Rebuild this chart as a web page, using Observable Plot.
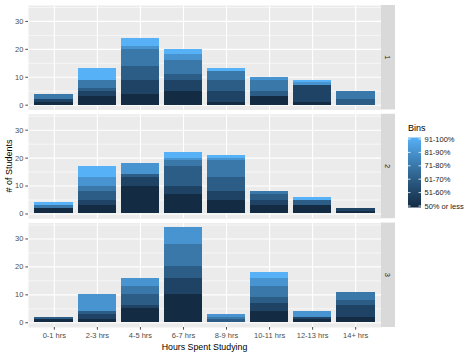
<!DOCTYPE html>
<html><head><meta charset="utf-8">
<script src="https://cdn.jsdelivr.net/npm/d3@7"></script>
<script src="https://cdn.jsdelivr.net/npm/@observablehq/plot@0.6"></script>
<style>body{margin:0;background:#fff} svg{display:block}</style>
</head><body><div id="chart"></div>
<script>
const hours = ["0-1 hrs","2-3 hrs","4-5 hrs","6-7 hrs","8-9 hrs","10-11 hrs","12-13 hrs","14+ hrs"];
const bins = ["50% or less","51-60%","61-70%","71-80%","81-90%","91-100%"];
const groups = ["1","2","3"];
// students per hours category; columns follow the bins order
const group1 = [[1,1,0,2,0,0],[3,2,1,3,0,4],[4,5,5,6,1,3],[5,4,2,5,2,2],[1,4,4,3,0,1],[3,0,2,4,1,0],[1,6,0,0,1,1],[0,0,2,3,0,0]];
const group2 = [[2,0,0,1,0,1],[3,2,3,2,3,4],[10,3,1,0,4,0],[7,3,7,2,1,2],[5,3,5,6,1,1],[3,2,2,1,0,0],[3,0,2,0,0,1],[1,1,0,0,0,0]];
const group3 = [[1,0,1,0,0,0],[1,2,1,0,6,0],[5,1,4,3,3,0],[10,6,4,8,6,0],[0,0,1,1,1,0],[4,3,2,4,3,2],[1,1,0,0,2,0],[2,4,2,3,0,0]];
const yTicks = [0,10,20,30];
const yMinor = [5,15,25,35];

const colorOf = d3.interpolateLab("#132B43", "#56B1F7");
const binColors = bins.map((b,i)=>colorOf(i/(bins.length-1)));
const table = [];
[group1,group2,group3].forEach((g,gi)=> g.forEach((row,hi)=> row.forEach((n,bi)=>
  table.push({group:groups[gi], hours:hours[hi], bin:bins[bi], count:n}))));

const W=474,H=355,mL=28,mR=93,mT=5,mB=28;
const font = "'Liberation Sans', Arial, sans-serif";
const plot = Plot.plot({
  width:W, height:H, marginLeft:mL, marginRight:mR, marginTop:mT, marginBottom:mB,
  style:{fontFamily:font, background:"white"},
  x:{type:"band", domain:hours, paddingInner:0.1, paddingOuter:0.15, round:false},
  y:{domain:[-1.7,35.7]},
  fy:{domain:groups, paddingInner:0.04, paddingOuter:0, axis:null, round:false},
  color:{domain:bins, range:binColors},
  marks:[
    Plot.frame({fill:"#EBEBEB", stroke:"none"}),
    Plot.gridY(yMinor, {stroke:"white", strokeOpacity:1, strokeWidth:0.6}),
    Plot.gridY(yTicks, {stroke:"white", strokeOpacity:1, strokeWidth:1.1}),
    Plot.gridX(hours, {stroke:"white", strokeOpacity:1, strokeWidth:1.1}),
    Plot.barY(table, Plot.stackY({x:"hours", y:"count", fill:"bin", fy:"group", shapeRendering:"crispEdges"})),
    Plot.axisY(yTicks, {tickSize:2.7, tickPadding:2.5, fontSize:7.5, color:"#4D4D4D", label:null}),
    Plot.axisX(hours, {tickSize:2.7, tickPadding:2.5, fontSize:7.5, color:"#4D4D4D", label:null})
  ]
});
document.getElementById("chart").appendChild(plot);

const svg = d3.select(plot);
const fy = plot.scale("fy");
const stripX = W - mR;
groups.forEach(k=>{
  const y0 = fy.apply(k), h = fy.bandwidth;
  svg.append("rect").attr("x", stripX).attr("y", y0).attr("width", 14).attr("height", h).attr("fill", "#D9D9D9");
  svg.append("text").attr("transform", `translate(${stripX+7},${y0+h/2}) rotate(90)`)
    .attr("text-anchor","middle").attr("dy","0.35em").attr("font-family",font).attr("font-size",7.5)
    .attr("fill","#1A1A1A").text(k);
});
// axis titles
svg.append("text").attr("transform", `translate(9,${mT+(H-mT-mB)/2}) rotate(-90)`)
  .attr("text-anchor","middle").attr("dy","0.35em").attr("font-family",font).attr("font-size",9)
  .attr("fill","black").text("# of Students");
svg.append("text").attr("x", mL+(W-mL-mR)/2).attr("y", 349.5)
  .attr("text-anchor","middle").attr("font-family",font).attr("font-size",8.8)
  .attr("fill","black").text("Hours Spent Studying");
// legend (colorbar)
const lx = 408, ly0 = 137.5, ly1 = 207.5, lw = 13;
const defs = svg.append("defs");
const grad = defs.append("linearGradient").attr("id","binsgrad").attr("x1",0).attr("x2",0).attr("y1",1).attr("y2",0);
d3.range(0,1.0001,0.1).forEach(t=> grad.append("stop").attr("offset",t).attr("stop-color",colorOf(t)));
svg.append("text").attr("x", lx).attr("y", 131).attr("text-anchor","start").attr("font-family",font)
  .attr("font-size",9).attr("fill","black").text("Bins");
svg.append("rect").attr("x",lx).attr("y",ly0).attr("width",lw).attr("height",ly1-ly0).attr("fill","url(#binsgrad)");
const ls = d3.scaleLinear().domain([0,bins.length-1]).range([ly1-1.5, ly0+1.5]);
bins.forEach((b,i)=>{
  const y = ls(i);
  svg.append("line").attr("x1",lx).attr("x2",lx+2.5).attr("y1",y).attr("y2",y).attr("stroke","white").attr("stroke-width",0.8);
  svg.append("line").attr("x1",lx+lw-2.5).attr("x2",lx+lw).attr("y1",y).attr("y2",y).attr("stroke","white").attr("stroke-width",0.8);
  svg.append("text").attr("x", lx+lw+3.5).attr("y", y).attr("dy","0.35em").attr("text-anchor","start")
    .attr("font-family",font).attr("font-size",7.5).attr("fill","#1A1A1A").text(b);
});
</script>
</body></html>
